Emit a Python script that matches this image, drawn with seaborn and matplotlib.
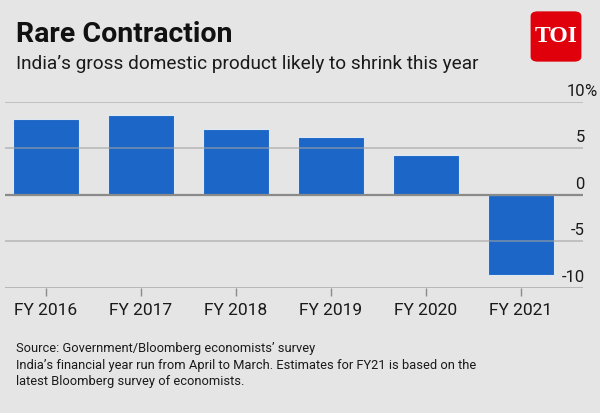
import matplotlib
matplotlib.use("Agg")
import matplotlib.pyplot as plt
import seaborn as sns
import pandas as pd
from matplotlib.patches import FancyBboxPatch
import matplotlib.transforms as mtransforms

years = ["FY 2016", "FY 2017", "FY 2018", "FY 2019", "FY 2020", "FY 2021"]
gdp_growth = [8.2, 8.6, 7.1, 6.2, 4.3, -8.6]
y_ticks = [10, 5, 0, -5, -10]
y_tick_labels = ["10", "5", "0", "-5", "-10"]

title = "Rare Contraction"
subtitle = "India\u2019s gross domestic product likely to shrink this year"
source_lines = [
    "Source: Government/Bloomberg economists\u2019 survey",
    "India\u2019s financial year run from April to March. Estimates for FY21 is based on the",
    "latest Bloomberg survey of economists.",
]

BG = "#e5e5e5"
BAR = "#1b66c6"

sns.set_theme(style="white")
plt.rcParams["font.family"] = ["Roboto", "DejaVu Sans"]

W, H = 600, 413
fig = plt.figure(figsize=(6.0, 4.13), dpi=100, facecolor=BG)
ax = fig.add_axes([5 / W, 1 - 288 / H, (583 - 5) / W, (288 - 102) / H])
ax.set_facecolor(BG)

df = pd.DataFrame({"year": years, "gdp": gdp_growth})
sns.barplot(data=df, x="year", y="gdp", color=BAR, saturation=1, width=0.7,
            edgecolor="#dfe7f3", linewidth=0.8, ax=ax, zorder=2)

ax.set_xlim(-0.432, 5.653)
ax.set_ylim(-10, 10)

for v in y_ticks:
    if v == 0:
        ax.axhline(v, color="#8a8a8a", lw=1.6, zorder=4)
    elif v == -10:
        ax.axhline(v, color="#b0b0b0", lw=1.2, zorder=4)
    else:
        ax.axhline(v, color="#a0a0a0", lw=1.4, alpha=0.55, zorder=4)

for s in ax.spines.values():
    s.set_visible(False)

ax.set_xlabel("")
ax.set_ylabel("")
ax.set_yticks([])
ax.tick_params(axis="x", which="both", bottom=True, length=6, width=1,
               color="#8a8a8a", pad=4.5, labelsize=12.5, labelcolor="#1a1a1a", direction="out")
ax.xaxis.set_ticks_position("bottom")

trans = mtransforms.blended_transform_factory(fig.transFigure, ax.transData)
xr = 585 / W
for v, lab in zip(y_ticks, y_tick_labels):
    ax.annotate(lab, xy=(xr, v), xycoords=trans, xytext=(0, 4.5),
                textcoords="offset points", ha="right", va="baseline",
                fontsize=12, color="#1a1a1a", annotation_clip=False)
ax.annotate("%", xy=(xr - 1 / W, y_ticks[0]), xycoords=trans, xytext=(0, 4.5),
            textcoords="offset points", ha="left", va="baseline",
            fontsize=12, color="#1a1a1a", annotation_clip=False)

fig.text(16 / W, 1 - 42 / H, title, fontsize=20.5, fontweight="bold",
         color="#111111", ha="left", va="baseline")
fig.text(16 / W, 1 - 69 / H, subtitle, fontsize=13.7, color="#1a1a1a",
         ha="left", va="baseline")

for i, line in enumerate(source_lines):
    fig.text(16 / W, 1 - (352 + 16.5 * i) / H, line, fontsize=9.3,
             color="#1a1a1a", ha="left", va="baseline")

logo = FancyBboxPatch((533 / W, 1 - 60 / H), 46 / W, 47 / H,
                      boxstyle="round,pad=0.004,rounding_size=0.012",
                      transform=fig.transFigure, facecolor="#e0000c",
                      edgecolor="none", zorder=5)
fig.patches.append(logo)
fig.text(556 / W, 1 - 36 / H, "TOI", fontsize=17, fontweight="bold",
         family=["Liberation Serif", "DejaVu Serif"], color="white",
         ha="center", va="center", zorder=6)

fig.savefig("out.png", dpi=100, facecolor=BG)
